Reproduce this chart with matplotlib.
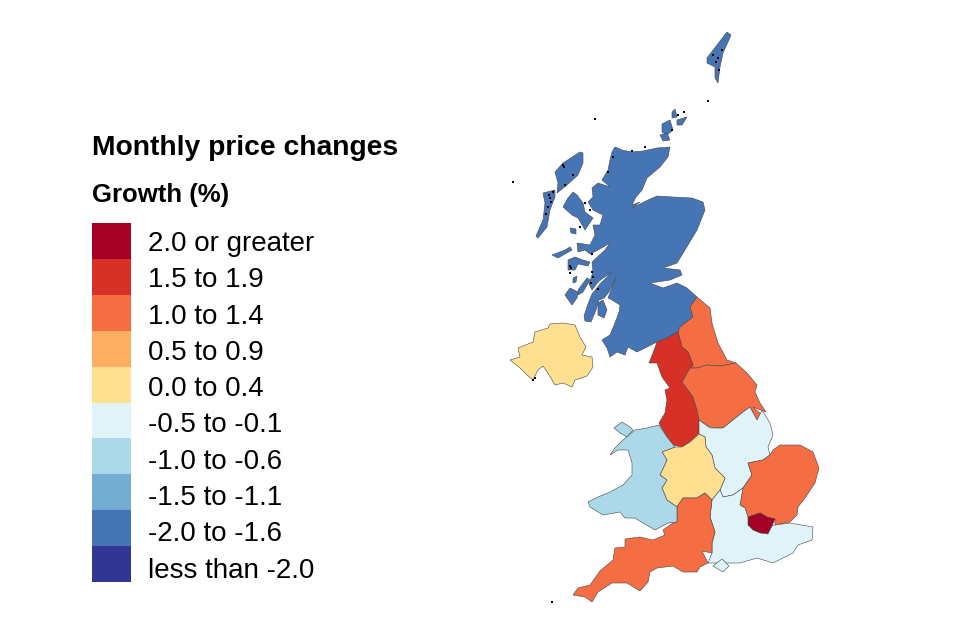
import matplotlib
matplotlib.use('Agg')
import matplotlib.pyplot as plt
from matplotlib.patches import Polygon

plt.rcParams['font.family'] = ['Liberation Sans', 'DejaVu Sans']

title = 'Monthly price changes'
subtitle = 'Growth (%)'
bin_labels = ['2.0 or greater', '1.5 to 1.9', '1.0 to 1.4', '0.5 to 0.9', '0.0 to 0.4',
              '-0.5 to -0.1', '-1.0 to -0.6', '-1.5 to -1.1', '-2.0 to -1.6', 'less than -2.0']
bin_colors = ['#a50026', '#d73027', '#f46d43', '#fdae61', '#fee090',
              '#e0f3f8', '#abd9e9', '#74add1', '#4575b4', '#313695']

# outlines, in image pixels
scotland = [(615,147),(622,150),(632,152),(643,151),(657,148),(670,147),(668,157),(660,167),(647,178),
            (642,190),(636,197),(632,205),(640,202),(632,208),(648,200),(657,196),(673,197),(692,198),
            (703,202),(705,210),(697,230),(685,250),(677,263),(663,268),(680,270),(682,275),(670,280),
            (650,283),(663,288),(677,283),(687,288),(697,297),(690,307),(693,317),(680,327),(678,332),
            (667,338),(657,342),(647,347),(637,352),(628,347),(625,355),(617,352),(610,357),(607,348),
            (602,340),(610,335),(615,323),(619,312),(620,305),(612,300),(608,298),(613,285),(616,277),
            (609,292),(604,298),(599,300),(596,310),(591,322),(585,321),(584,316),(588,304),(592,294),
            (600,284),(612,272),(599,281),(592,290),(589,284),(593,272),(592,262),(605,250),(610,243),
            (598,250),(590,254),(585,250),(578,252),(577,243),(590,245),(595,235),(593,225),(600,225),
            (603,215),(593,210),(588,202),(593,197),(592,188),(598,183),(610,187),(602,180),(608,170),
            (610,160),(612,152)]
shetland = [(707,58),(717,45),(727,32),(731,35),(728,42),(723,53),(720,67),(718,83),(715,78),(715,67),(707,63)]
orkney_main = [(662,124),(670,120),(673,130),(667,135),(662,132)]
orkney_hoy = [(660,135),(667,133),(670,140),(663,141)]
orkney_north = [(672,112),(675,109),(677,117),(672,118)]
orkney_east = [(677,120),(687,117),(682,125),(677,125)]
lewis = [(555,172),(563,163),(580,152),(583,153),(583,163),(578,175),(567,185),(557,193),(558,183)]
uist = [(543,193),(555,190),(555,197),(550,210),(547,227),(538,238),(536,236),(543,220),(545,203)]
skye = [(563,207),(568,198),(573,192),(577,195),(583,203),(585,212),(593,218),(585,230),(578,218),(572,215)]
rum = [(570,228),(576,229),(576,234),(571,233)]
coll = [(552,255),(565,250),(570,247),(572,250),(558,258)]
mull = [(568,260),(575,257),(583,260),(590,262),(588,266),(578,264),(575,270),(568,270)]
colonsay = [(573,278),(577,276),(576,282),(573,283)]
jura = [(578,290),(587,278),(590,280),(583,292),(578,295)]
islay = [(565,295),(570,288),(578,292),(577,298),(572,305),(567,298)]
arran = [(598,303),(603,300),(607,310),(604,318),(598,315)]
northern_ireland = [(510,360),(520,357),(518,348),(533,342),(535,332),(548,328),(550,324),(563,323),
                    (575,325),(580,337),(586,347),(582,355),(592,357),(593,367),(587,376),(575,380),
                    (572,387),(563,383),(555,385),(548,373),(543,366),(538,370),(533,380),(527,375),(520,368)]
north_east = [(697,297),(710,308),(712,323),(718,343),(727,360),(736,363),(720,366),(707,365),(697,368),
              (690,368),(693,365),(688,352),(682,347),(678,332),(680,327),(693,317),(690,307)]
north_west = [(678,332),(682,347),(688,352),(693,365),(690,368),(682,382),(693,397),(697,410),(699,420),
              (699,433),(690,442),(682,447),(673,445),(667,437),(659,423),(665,413),(667,400),(665,390),
              (670,388),(662,377),(657,363),(649,363),(653,353),(657,342),(667,338)]
yorkshire = [(690,368),(697,368),(707,365),(720,366),(736,363),(747,373),(757,385),(755,392),(760,403),
             (766,412),(753,407),(762,415),(757,420),(750,407),(743,412),(733,420),(723,428),(710,427),
             (699,420),(697,410),(693,397),(682,382)]
east_midlands = [(699,420),(710,428),(723,428),(733,420),(743,412),(750,407),(757,420),(762,410),(770,423),
                 (773,435),(768,447),(770,455),(763,460),(748,463),(752,475),(743,488),(733,495),(723,497),
                 (720,490),(725,478),(715,468),(712,455),(706,447),(705,437),(699,434)]
west_midlands = [(699,434),(705,437),(706,447),(712,455),(715,468),(725,478),(720,490),(712,500),(705,493),
                 (697,498),(683,498),(677,507),(667,500),(662,488),(667,480),(660,475),(667,460),(662,452),
                 (675,447),(682,447),(690,442)]
east_england = [(770,455),(773,450),(780,445),(800,445),(813,452),(819,468),(815,483),(805,498),(798,507),
                (797,515),(790,522),(775,525),(775,519),(767,517),(760,513),(748,517),(745,508),(740,505),
                (743,488),(752,475),(748,463),(763,460)]
london = [(748,517),(760,513),(767,517),(775,519),(772,526),(768,534),(760,533),(753,530),(748,525)]
south_east = [(712,500),(720,490),(723,497),(733,495),(743,488),(740,505),(745,508),(748,517),(748,525),
              (753,530),(760,533),(768,534),(772,526),(775,525),(790,523),(813,527),(812,540),(798,545),
              (793,553),(773,563),(757,558),(740,563),(727,563),(713,563),(708,563),(712,553),(712,543),
              (715,532),(710,517)]
wight = [(713,566),(722,559),(729,566),(723,572)]
south_west = [(677,507),(683,498),(697,498),(705,493),(712,500),(710,517),(715,532),(712,543),(712,553),
              (702,551),(708,563),(700,567),(697,572),(683,572),(673,566),(657,568),(650,572),(648,582),
              (640,591),(627,583),(612,583),(598,592),(592,602),(585,597),(573,595),(578,588),(590,585),
              (600,571),(613,560),(615,548),(625,547),(625,539),(640,537),(653,540),(665,535),(663,530),
              (673,523),(677,522)]
wales = [(659,425),(667,437),(675,447),(662,452),(667,460),(660,475),(667,480),(662,488),(667,500),(677,507),
         (677,522),(668,523),(655,530),(643,523),(635,518),(625,518),(620,512),(603,515),(590,507),(588,502),
         (598,497),(610,492),(623,485),(632,475),(632,463),(628,450),(618,450),(610,455),(615,448),(623,440),
         (635,430),(647,428)]
anglesey = [(614,428),(622,422),(630,427),(633,430),(627,437),(620,433)]

# region, outlines, legend bin
regions = [('Scotland', [scotland, shetland, orkney_main, orkney_hoy, orkney_north, orkney_east, lewis, uist,
                         skye, rum, coll, mull, colonsay, jura, islay, arran], 8),
           ('Northern Ireland', [northern_ireland], 4),
           ('North East', [north_east], 2),
           ('North West', [north_west], 1),
           ('Yorkshire', [yorkshire], 2),
           ('East Midlands', [east_midlands], 5),
           ('West Midlands', [west_midlands], 4),
           ('East', [east_england], 2),
           ('London', [london], 0),
           ('South East', [south_east, wight], 5),
           ('South West', [south_west], 2),
           ('Wales', [wales, anglesey], 6)]

# black coastline specks where the islands are too fine to show
speck_x = [552, 595, 513, 708, 713, 716, 719, 563, 564, 573, 565, 549, 550, 551, 548, 546, 608, 613, 585, 580,
           570, 571, 592, 593, 591, 672, 678, 684, 645, 632, 590, 592, 598, 570, 533, 535, 553, 718, 722]
speck_y = [602, 119, 182, 101, 55, 62, 70, 165, 167, 175, 185, 195, 198, 202, 207, 214, 172, 157, 203, 227,
           266, 268, 272, 277, 283, 130, 115, 112, 147, 151, 210, 254, 289, 273, 380, 378, 192, 58, 50]

fig = plt.figure(figsize=(9.6, 6.4), dpi=100)
ax = fig.add_axes([0, 0, 1, 1])
ax.set_xlim(0, 960)
ax.set_ylim(640, 0)
ax.axis('off')

for name, outlines, b in regions:
    for outline in outlines:
        ax.add_patch(Polygon(outline, closed=True, facecolor=bin_colors[b], edgecolor='#444444', linewidth=0.4))
ax.scatter(speck_x, speck_y, s=3, c='black', marker='s', linewidths=0)

ax.text(92, 148, title, fontsize=20.3, fontweight='bold', va='center', ha='left', color='black')
ax.text(92, 195, subtitle, fontsize=18.5, fontweight='bold', va='center', ha='left', color='black')

swatch_top = 223
swatch_h = 35.9
for i, label in enumerate(bin_labels):
    ax.bar(111.5, swatch_h, width=39, bottom=swatch_top + i * swatch_h, color=bin_colors[i], linewidth=0)
    ax.text(148, 244 + i * 36.3, label, fontsize=20, va='center', ha='left', color='black')

ax.set_xlim(0, 960)
ax.set_ylim(640, 0)
fig.savefig('out.png', dpi=100)
